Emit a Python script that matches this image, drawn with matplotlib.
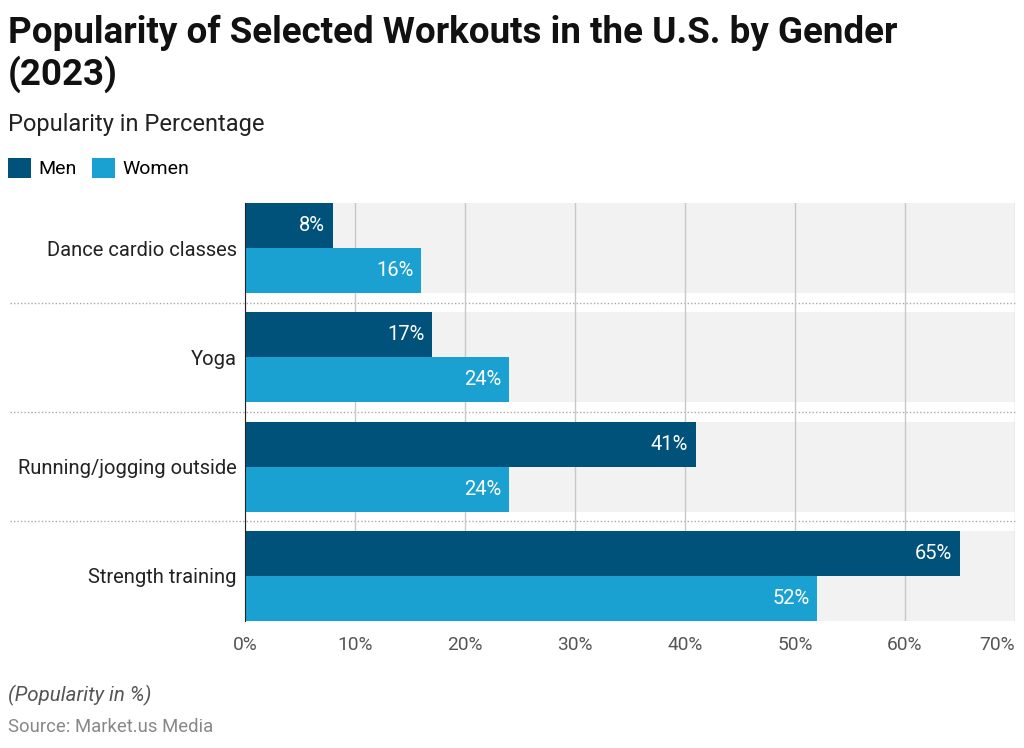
import matplotlib
matplotlib.use("Agg")
import matplotlib.pyplot as plt
import numpy as np

# data
categories = ["Dance cardio classes", "Yoga", "Running/jogging outside", "Strength training"]
men = [8, 17, 41, 65]
women = [16, 24, 24, 52]
xticks = [0, 10, 20, 30, 40, 50, 60, 70]

plt.rcParams['font.family'] = ['Roboto', 'DejaVu Sans']

c_men = '#00527a'
c_women = '#1ba1d1'

fig = plt.figure(figsize=(10.24, 7.48), dpi=100)
W, H = 1024, 748
ax = fig.add_axes([245 / W, (H - 621) / H, 770 / W, 418 / H])

half = 0.412
y = np.arange(len(categories))

# grey bands behind each group
ax.barh(y, [70] * len(y), height=2 * half, color='#f2f2f2', zorder=0)
ax.barh(y - half / 2, men, height=half, color=c_men, zorder=2, label='Men')
ax.barh(y + half / 2, women, height=half, color=c_women, zorder=2, label='Women')

for i in range(len(y)):
    ax.text(men[i] - 0.7, y[i] - half / 2, f"{men[i]}%", ha='right', va='center',
            color='white', fontsize=14.5, zorder=3)
    ax.text(women[i] - 0.7, y[i] + half / 2, f"{women[i]}%", ha='right', va='center',
            color='white', fontsize=14.5, zorder=3)

# dotted separators
for i in range(len(y) - 1):
    ax.axhline(y[i] + 0.5, xmin=-0.305, xmax=1, color='#aaaaaa', lw=1,
               ls=(0, (1, 1.5)), clip_on=False, zorder=1)

ax.set_xlim(0, 70)
ax.set_ylim(len(y) - 1 + half, -half)
ax.set_xticks(xticks)
ax.set_xticklabels([f"{t}%" for t in xticks])
ax.get_xticklabels()[-1].set_horizontalalignment('right')
ax.set_yticks(y)
ax.set_yticklabels(categories)
ax.set_axisbelow('line')
ax.xaxis.grid(True, color='#c8c8c8', lw=1)
ax.tick_params(axis='x', length=0, pad=11, labelsize=13.8, labelcolor='#555555')
ax.tick_params(axis='y', length=0, pad=6, labelsize=14.5, labelcolor='#222222')
for s in ['top', 'right', 'bottom']:
    ax.spines[s].set_visible(False)
ax.spines['left'].set_color('#222222')
ax.spines['left'].set_zorder(4)

# titles
fig.text(8 / W, 1 - 15 / H, "Popularity of Selected Workouts in the U.S. by Gender\n(2023)",
         ha='left', va='top', fontsize=26.5, fontweight='bold', color='#111111',
         linespacing=1.15)
fig.text(8 / W, 1 - 124 / H, "Popularity in Percentage", ha='left', va='center',
         fontsize=17, color='#222222')

# legend
leg = fig.legend(handles=ax.containers[1:], labels=['Men', 'Women'],
                 loc='center left', bbox_to_anchor=(0 / W, 1 - 168 / H), ncol=2,
                 frameon=False, fontsize=14, handlelength=1.2, handleheight=1.2,
                 handletextpad=0.35, columnspacing=0.8, borderaxespad=0)

# footer
fig.text(8 / W, 1 - 695 / H, "(Popularity in %)", ha='left', va='center',
         fontsize=14.8, style='italic', color='#555555')
fig.text(8 / W, 1 - 727 / H, "Source: Market.us Media", ha='left', va='center',
         fontsize=13.3, color='#888888')

fig.savefig("out.png", dpi=100)
